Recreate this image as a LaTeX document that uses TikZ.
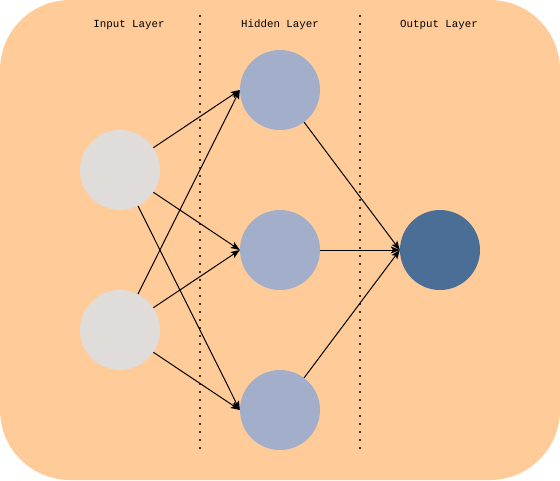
\documentclass[tikz,border=0pt]{standalone}
\usepackage{fontspec}
\setmonofont{Liberation Mono}
\usetikzlibrary{arrows.meta}
\definecolor{peach}{HTML}{FFCC99}
\definecolor{ingray}{HTML}{E0DCDA}
\definecolor{hidblue}{HTML}{A3AECA}
\definecolor{outblue}{HTML}{4A6E96}
\begin{document}
\begin{tikzpicture}[x=1pt,y=-1pt,
  neuron/.style={circle,minimum size=80pt,inner sep=0pt,draw=none},
  inneuron/.style={neuron,fill=ingray},
  hidneuron/.style={neuron,fill=hidblue},
  outneuron/.style={neuron,fill=outblue},
  conn/.style={line width=1pt,-{Stealth[length=9pt,width=7pt,inset=2pt]}},
  sep/.style={line width=2.2pt,dash pattern=on 0pt off 8pt,line cap=round},
  lbl/.style={font=\ttfamily\fontsize{10.8}{12}\selectfont,inner sep=0pt}]
\useasboundingbox (0,0) rectangle (560,480);
\fill[peach,rounded corners=70pt] (0,0) rectangle (560,480);
\coordinate (s1t) at (200,16);
\coordinate (s1b) at (200,450);
\coordinate (s2t) at (360,16);
\coordinate (s2b) at (360,450);
\draw[sep] (s1t) -- (s1b);
\draw[sep] (s2t) -- (s2b);
\node[lbl] (l1) at (129,25) {Input Layer};
\node[lbl] (l2) at (280,25) {Hidden Layer};
\node[lbl] (l3) at (439,25) {Output Layer};
\node[inneuron] (i1) at (120,170) {};
\node[inneuron] (i2) at (120,330) {};
\node[hidneuron] (h1) at (280,90) {};
\node[hidneuron] (h2) at (280,250) {};
\node[hidneuron] (h3) at (280,410) {};
\node[outneuron] (o) at (440,250) {};
\foreach \i in {i1,i2}{
  \foreach \h in {h1,h2,h3}{
    \draw[conn] (\i) -- (\h.west);
  }
}
\foreach \h in {h1,h2,h3}{
  \draw[conn] (\h) -- (o.west);
}
\end{tikzpicture}
\end{document}
